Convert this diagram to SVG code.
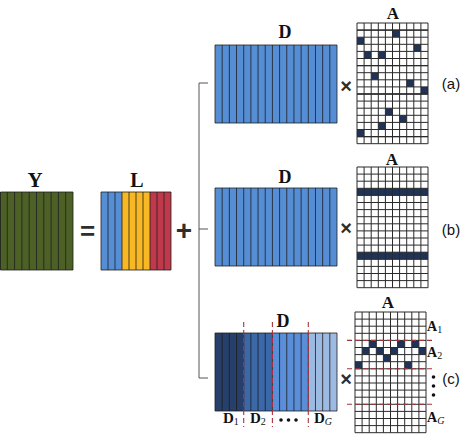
<svg xmlns="http://www.w3.org/2000/svg" xmlns:xlink="http://www.w3.org/1999/xlink" width="474" height="434" viewBox="0 0 474 434">
<style>
.lbl{font-family:"Liberation Serif","Times New Roman",serif;font-weight:bold;fill:#111;text-anchor:middle}
.sub{font-family:"Liberation Serif","Times New Roman",serif;fill:#111}
.tag{font-family:"Liberation Sans",Arial,sans-serif;font-size:15px;fill:#111;text-anchor:middle}
.op{font-family:"Liberation Sans",Arial,sans-serif;font-weight:bold;fill:#2e2e2e;text-anchor:middle}
.stripe{fill:none;stroke:#1e1e1e;stroke-width:0.8}
.grid{fill:none;stroke:#2a2a2a;stroke-width:1}
.cell{fill:#1f3358}
.red{stroke:#a8323c;stroke-width:1.1;stroke-dasharray:5 3;fill:none}
.conn{stroke:#555;stroke-width:1;fill:none}
</style>
<defs>
<path id="dstr" class="stripe" d="M7.18 0V78M14.35 0V78M21.53 0V78M28.71 0V78M35.88 0V78M43.06 0V78M50.24 0V78M57.41 0V78M64.59 0V78M71.76 0V78M78.94 0V78M86.12 0V78M93.29 0V78M100.47 0V78M107.65 0V78M114.82 0V78M0 0H122V78H0Z"/>
<path id="grid" class="grid" d="M0 0V120.7M7.1 0V120.7M14.2 0V120.7M21.3 0V120.7M28.4 0V120.7M35.5 0V120.7M42.6 0V120.7M49.7 0V120.7M56.8 0V120.7M63.9 0V120.7M71 0V120.7M0 0H71M0 7.1H71M0 14.2H71M0 21.3H71M0 28.4H71M0 35.5H71M0 42.6H71M0 49.7H71M0 56.8H71M0 63.9H71M0 71H71M0 78.1H71M0 85.2H71M0 92.3H71M0 99.4H71M0 106.5H71M0 113.6H71M0 120.7H71"/>
</defs>

<g id="connectors">
<path class="conn" d="M199 83V378M199 83H208M199 229H208M199 378H208"/>
</g>

<g id="Y">
<rect x="0" y="192" width="73" height="78" fill="#4d6127"/>
<path class="stripe" d="M7.3 192V270M14.6 192V270M21.9 192V270M29.2 192V270M36.5 192V270M43.8 192V270M51.1 192V270M58.4 192V270M65.7 192V270M0.5 192H73V270H0.5Z"/>
<text class="lbl" x="35" y="187" font-size="21">Y</text>
</g>

<g id="eq"><text class="op" x="87.5" y="240" font-size="26">=</text></g>

<g id="L">
<rect x="101" y="192" width="21" height="78" fill="#558ed5"/>
<rect x="122" y="192" width="28" height="78" fill="#f8b823"/>
<rect x="150" y="192" width="21" height="78" fill="#c0394b"/>
<path class="stripe" d="M108 192V270M115 192V270M122 192V270M129 192V270M136 192V270M143 192V270M150 192V270M157 192V270M164 192V270M101 192H171V270H101Z"/>
<text class="lbl" x="137" y="187" font-size="20">L</text>
</g>

<g id="plus"><text class="op" x="184" y="239.5" font-size="28">+</text></g>

<g id="Da">
<rect x="215" y="45" width="122" height="78" fill="#558ed5"/>
<use xlink:href="#dstr" x="215" y="45"/>
<text class="lbl" x="285" y="38" font-size="18">D</text>
</g>
<g id="timesA"><text class="op" x="346" y="93" font-size="20">×</text></g>
<g id="Aa">
<rect x="357" y="23" width="71" height="120.7" fill="#fff"/>
<rect class="cell" x="392.5" y="30.1" width="7.1" height="7.1"/>
<rect class="cell" x="357" y="37.2" width="7.1" height="7.1"/>
<rect class="cell" x="413.8" y="44.3" width="7.1" height="7.1"/>
<rect class="cell" x="364.1" y="51.4" width="7.1" height="7.1"/>
<rect class="cell" x="378.3" y="51.4" width="7.1" height="7.1"/>
<rect class="cell" x="371.2" y="72.7" width="7.1" height="7.1"/>
<rect class="cell" x="406.7" y="79.8" width="7.1" height="7.1"/>
<rect class="cell" x="420.9" y="86.9" width="7.1" height="7.1"/>
<rect class="cell" x="385.4" y="108.2" width="7.1" height="7.1"/>
<rect class="cell" x="399.6" y="115.3" width="7.1" height="7.1"/>
<rect class="cell" x="378.3" y="122.4" width="7.1" height="7.1"/>
<rect class="cell" x="357" y="129.5" width="7.1" height="7.1"/>
<use xlink:href="#grid" x="357" y="23"/>
<path stroke="#2a2a2a" stroke-width="1.4" d="M357 30.1H428M357 65.6H428M357 94H428M357 136.6H428"/>
<text class="lbl" x="393" y="18.5" font-size="17">A</text>
</g>
<g id="tagA"><text class="tag" x="451" y="89">(a)</text></g>

<g id="Db">
<rect x="215" y="188" width="122" height="78" fill="#558ed5"/>
<use xlink:href="#dstr" x="215" y="188"/>
<text class="lbl" x="285" y="183" font-size="18">D</text>
</g>
<g id="timesB"><text class="op" x="346" y="235" font-size="20">×</text></g>
<g id="Ab">
<rect x="357" y="167" width="71" height="120.7" fill="#fff"/>
<rect class="cell" x="357" y="188.3" width="71" height="7.1"/>
<rect class="cell" x="357" y="252.2" width="71" height="7.1"/>
<use xlink:href="#grid" x="357" y="167"/>
<text class="lbl" x="392" y="164.5" font-size="17">A</text>
</g>
<g id="tagB"><text class="tag" x="451" y="235">(b)</text></g>

<g id="Dc">
<rect x="215" y="333" width="28.7" height="78" fill="#263f6b"/>
<rect x="243.7" y="333" width="28.7" height="78" fill="#3b68a9"/>
<rect x="272.4" y="333" width="35.9" height="78" fill="#5b8ed8"/>
<rect x="308.3" y="333" width="28.7" height="78" fill="#9dbae2"/>
<use xlink:href="#dstr" x="215" y="333"/>
<path class="red" d="M243.7 322V427M272.4 322V427M308.3 322V427"/>
<text class="lbl" x="283" y="327" font-size="18">D</text>
<text class="sub" x="223" y="423" font-size="15" font-weight="bold">D<tspan font-size="10" dy="2" font-weight="normal">1</tspan></text>
<text class="sub" x="250" y="423" font-size="15" font-weight="bold">D<tspan font-size="10" dy="2" font-weight="normal">2</tspan></text>
<circle cx="281" cy="420" r="1.8" fill="#111"/>
<circle cx="288.5" cy="420" r="1.8" fill="#111"/>
<circle cx="296" cy="420" r="1.8" fill="#111"/>
<text class="sub" x="314" y="423" font-size="15" font-weight="bold">D<tspan font-size="10" dy="2" font-style="italic" font-weight="normal">G</tspan></text>
</g>
<g id="timesC"><text class="op" x="346" y="386" font-size="20">×</text></g>
<g id="Ac">
<rect x="355" y="312" width="71" height="120.7" fill="#fff"/>
<rect class="cell" x="369.2" y="340.4" width="7.1" height="7.1"/>
<rect class="cell" x="397.6" y="340.4" width="7.1" height="7.1"/>
<rect class="cell" x="411.8" y="340.4" width="7.1" height="7.1"/>
<rect class="cell" x="362.1" y="347.5" width="7.1" height="7.1"/>
<rect class="cell" x="376.3" y="347.5" width="7.1" height="7.1"/>
<rect class="cell" x="390.5" y="347.5" width="7.1" height="7.1"/>
<rect class="cell" x="418.9" y="347.5" width="7.1" height="7.1"/>
<rect class="cell" x="383.4" y="354.6" width="7.1" height="7.1"/>
<rect class="cell" x="355" y="361.7" width="7.1" height="7.1"/>
<rect class="cell" x="404.7" y="361.7" width="7.1" height="7.1"/>
<use xlink:href="#grid" x="355" y="312"/>
<path class="red" d="M347 340.4H433M347 368.8H433M347 404.3H433"/>
<text class="lbl" x="388" y="308" font-size="17">A</text>
<text class="sub" x="427" y="331" font-size="14" font-weight="bold">A<tspan font-size="10" dy="2" font-weight="normal">1</tspan></text>
<text class="sub" x="427" y="357" font-size="14" font-weight="bold">A<tspan font-size="10" dy="2" font-weight="normal">2</tspan></text>
<circle cx="433.5" cy="377" r="1.8" fill="#111"/>
<circle cx="433.5" cy="386" r="1.8" fill="#111"/>
<circle cx="433.5" cy="395" r="1.8" fill="#111"/>
<text class="sub" x="427" y="422" font-size="14" font-weight="bold">A<tspan font-size="10" dy="2" font-style="italic" font-weight="normal">G</tspan></text>
</g>
<g id="tagC"><text class="tag" x="451" y="384">(c)</text></g>
</svg>
